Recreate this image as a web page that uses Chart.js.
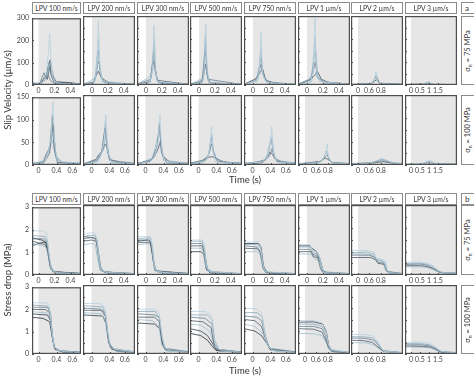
<!DOCTYPE html>
<html>
<head>
<meta charset="utf-8">
<script src="https://cdn.jsdelivr.net/npm/chart.js@4.4.1/dist/chart.umd.min.js"></script>
<style>
  body { margin: 0; background: #fff; }
  #fig { position: relative; width: 474px; height: 376px; overflow: hidden; font-family: Lato, 'Open Sans', sans-serif; color: #333; background: #fff; }
  #fig canvas { position: absolute; }
  .tbox { position: absolute; box-sizing: border-box; border: 1px solid #8c8c8c; background: #fff; font-size: 6.8px; text-align: center; white-space: nowrap; }
  .rbox { position: absolute; box-sizing: border-box; border: 1px solid #8c8c8c; background: #fff; }
  .rot { position: absolute; transform: rotate(-90deg); text-align: center; white-space: nowrap; }
  .lab { position: absolute; white-space: nowrap; text-align: center; }
  sub { font-size: 70%; vertical-align: -2px; line-height: 0; }
</style>
</head>
<body>
<div id="fig"></div>
<script>
// panel titles
const lpvLabels = ['LPV 100 nm/s', 'LPV 200 nm/s', 'LPV 300 nm/s', 'LPV 500 nm/s', 'LPV 750 nm/s', 'LPV 1 µm/s', 'LPV 2 µm/s', 'LPV 3 µm/s'];

// tick values
const yTicksVel75 = [0, 50, 100, 150, 200, 250, 300];
const yTicksVel100 = [0, 25, 50, 75, 100, 125, 150];
const yTicksStress = [0, 0.5, 1, 1.5, 2, 2.5, 3];
const xTicksShort = [0, 0.2, 0.4];
const xTicksMid = [0, 0.4, 0.6];
const xTicksLong = [0, 0.6, 0.8];
const xTicksSlow = [0, 0.5, 1, 1.5];

// traces: one list per LPV panel, each trace is x,y,x,y,...
// slip velocity, sigma_n = 75 MPa (µm/s)
const vel75 = [
  [[-0.08,8, -0.04,12, 0,6, 0.06,15, 0.1,60, 0.125,150, 0.14,230, 0.155,120, 0.17,40, 0.2,12, 0.3,6, 0.53,4],
   [-0.08,4, 0,5, 0.08,20, 0.12,60, 0.15,115, 0.17,70, 0.2,20, 0.26,8, 0.53,3],
   [-0.08,15, -0.05,5, 0.02,10, 0.05,40, 0.07,55, 0.09,30, 0.12,45, 0.15,20, 0.2,8, 0.53,4],
   [-0.08,2, 0.03,5, 0.07,30, 0.09,45, 0.11,25, 0.14,80, 0.16,40, 0.2,10, 0.35,12, 0.53,3],
   [-0.08,6, 0.04,8, 0.1,30, 0.13,95, 0.15,70, 0.18,20, 0.25,10, 0.53,2],
   [-0.08,10, 0,3, 0.05,20, 0.1,50, 0.14,110, 0.16,50, 0.22,15, 0.53,5]],
  [[-0.11,3, 0,5, 0.04,20, 0.065,110, 0.08,280, 0.095,100, 0.12,25, 0.2,8, 0.54,3],
   [-0.11,2, 0.02,8, 0.06,60, 0.08,150, 0.1,60, 0.14,15, 0.3,5, 0.54,2],
   [-0.11,4, 0.03,15, 0.07,90, 0.09,105, 0.11,40, 0.16,10, 0.54,3],
   [-0.11,1, 0.02,10, 0.05,40, 0.08,60, 0.12,30, 0.2,12, 0.3,5, 0.54,2],
   [-0.11,2, 0.04,30, 0.08,200, 0.1,70, 0.13,15, 0.54,4]],
  [[-0.11,3, 0.04,8, 0.08,60, 0.1,260, 0.115,80, 0.14,15, 0.54,3],
   [-0.11,2, 0.05,10, 0.09,120, 0.105,200, 0.12,50, 0.16,10, 0.54,2],
   [-0.11,4, 0.06,25, 0.095,150, 0.11,70, 0.15,12, 0.54,4],
   [-0.11,2, 0.05,15, 0.09,100, 0.11,90, 0.14,20, 0.54,3],
   [-0.11,3, 0.07,40, 0.1,110, 0.12,40, 0.18,8, 0.54,2]],
  [[-0.11,2, 0.04,8, 0.07,60, 0.085,265, 0.1,70, 0.13,10, 0.54,2],
   [-0.11,3, 0.05,15, 0.08,220, 0.095,60, 0.12,10, 0.54,3],
   [-0.11,1, 0.04,20, 0.075,150, 0.09,120, 0.11,25, 0.54,2],
   [-0.11,2, 0.03,10, 0.06,45, 0.08,90, 0.1,50, 0.14,10, 0.54,2],
   [-0.11,3, 0.05,30, 0.09,180, 0.1,40, 0.15,6, 0.54,3]],
  [[-0.11,3, 0.05,15, 0.08,60, 0.1,230, 0.12,50, 0.16,12, 0.25,8, 0.54,3],
   [-0.11,2, 0.04,20, 0.08,80, 0.1,120, 0.13,40, 0.2,10, 0.54,2],
   [-0.11,4, 0.03,25, 0.07,50, 0.1,90, 0.14,30, 0.2,12, 0.54,3],
   [-0.11,2, 0.05,30, 0.09,55, 0.12,70, 0.16,20, 0.3,6, 0.54,2],
   [-0.11,1, 0.06,20, 0.1,160, 0.12,45, 0.18,8, 0.54,2]],
  [[-0.11,2, 0.04,10, 0.08,60, 0.1,290, 0.115,70, 0.15,15, 0.54,3],
   [-0.11,3, 0.05,30, 0.09,120, 0.11,150, 0.13,40, 0.2,10, 0.54,2],
   [-0.11,2, 0.03,20, 0.08,60, 0.1,100, 0.14,30, 0.22,15, 0.3,10, 0.54,3],
   [-0.11,4, 0.05,25, 0.1,45, 0.13,60, 0.18,25, 0.26,12, 0.54,4],
   [-0.11,1, 0.06,15, 0.1,210, 0.12,35, 0.2,8, 0.54,2]],
  [[-0.4,2, 0.6,4, 0.68,10, 0.715,60, 0.74,15, 0.8,5, 1.2,2],
   [-0.4,3, 0.63,6, 0.69,20, 0.72,45, 0.75,12, 0.85,4, 1.2,2],
   [-0.4,1, 0.66,8, 0.7,30, 0.73,35, 0.77,8, 1.2,3],
   [-0.4,2, 0.65,5, 0.7,18, 0.74,25, 0.78,6, 1.2,2]],
  [[-0.33,1, 0.6,2, 0.85,10, 0.95,16, 1.1,8, 1.3,3, 2.56,2],
   [-0.33,2, 0.7,4, 0.9,12, 1.0,12, 1.15,4, 2.56,1],
   [-0.33,1, 0.75,5, 0.95,9, 1.1,6, 1.3,2, 2.56,1]]
];

// slip velocity, sigma_n = 100 MPa (µm/s)
const vel100 = [
  [[-0.15,3, 0.1,4, 0.2,20, 0.28,60, 0.32,140, 0.36,50, 0.41,8, 0.8,3],
   [-0.15,2, 0.12,8, 0.2,25, 0.28,55, 0.32,75, 0.35,60, 0.39,15, 0.48,5, 0.8,2],
   [-0.15,4, 0.1,6, 0.16,22, 0.2,30, 0.25,40, 0.31,110, 0.34,40, 0.41,5, 0.8,3],
   [-0.15,1, 0.1,3, 0.18,15, 0.24,25, 0.3,70, 0.33,90, 0.37,30, 0.42,6, 0.8,2],
   [-0.15,2, 0.14,10, 0.22,30, 0.28,45, 0.33,55, 0.37,20, 0.48,6, 0.8,4]],
  [[-0.19,2, 0.1,5, 0.2,15, 0.28,50, 0.32,108, 0.36,30, 0.42,5, 0.8,2],
   [-0.19,3, 0.08,8, 0.14,18, 0.2,20, 0.27,35, 0.32,65, 0.36,25, 0.44,6, 0.8,3],
   [-0.19,1, 0.12,10, 0.22,25, 0.3,80, 0.34,50, 0.4,10, 0.8,2],
   [-0.19,2, 0.1,12, 0.16,22, 0.24,30, 0.3,45, 0.34,40, 0.4,12, 0.55,5, 0.8,2],
   [-0.19,1, 0.15,8, 0.25,35, 0.31,95, 0.35,25, 0.44,4, 0.8,1]],
  [[-0.19,3, 0.1,6, 0.22,20, 0.28,50, 0.32,108, 0.36,35, 0.42,6, 0.8,3],
   [-0.19,2, 0.12,10, 0.24,30, 0.3,70, 0.34,55, 0.4,10, 0.8,2],
   [-0.19,1, 0.14,12, 0.26,40, 0.31,90, 0.35,30, 0.44,5, 0.8,2],
   [-0.19,4, 0.1,8, 0.2,18, 0.28,35, 0.33,50, 0.38,20, 0.48,6, 0.8,3],
   [-0.19,2, 0.16,15, 0.27,60, 0.32,75, 0.36,25, 0.44,4, 0.8,2]],
  [[-0.19,2, 0.1,6, 0.2,15, 0.26,40, 0.29,83, 0.32,30, 0.38,6, 0.8,2],
   [-0.19,3, 0.05,8, 0.15,15, 0.22,20, 0.28,60, 0.32,35, 0.4,12, 0.52,6, 0.8,3],
   [-0.19,1, 0.08,5, 0.18,12, 0.25,30, 0.29,45, 0.34,25, 0.41,8, 0.8,2],
   [-0.19,4, 0.1,10, 0.2,16, 0.3,18, 0.4,14, 0.47,8, 0.55,5, 0.8,3],
   [-0.19,2, 0.12,8, 0.24,25, 0.3,65, 0.34,20, 0.44,5, 0.8,2]],
  [[-0.19,3, 0.2,6, 0.32,15, 0.38,35, 0.415,82, 0.44,25, 0.48,6, 0.8,3],
   [-0.19,2, 0.25,8, 0.35,25, 0.405,55, 0.43,35, 0.47,10, 0.8,2],
   [-0.19,4, 0.1,6, 0.3,12, 0.38,20, 0.42,35, 0.45,15, 0.55,6, 0.8,3],
   [-0.19,1, 0.22,5, 0.34,18, 0.39,28, 0.43,22, 0.48,8, 0.8,2],
   [-0.19,2, 0.3,10, 0.38,45, 0.42,60, 0.45,15, 0.52,4, 0.8,2]],
  [[-0.4,2, 0.61,4, 0.7,10, 0.76,25, 0.785,45, 0.81,15, 0.87,4, 1.2,2],
   [-0.4,3, 0.66,6, 0.73,15, 0.77,30, 0.8,20, 0.85,6, 1.2,2],
   [-0.4,1, 0.63,5, 0.71,12, 0.76,18, 0.79,22, 0.82,10, 0.88,4, 1.2,2],
   [-0.4,2, 0.68,8, 0.75,15, 0.8,12, 0.87,5, 1.2,3]],
  [[-0.4,2, 0.47,3, 0.66,6, 0.75,10, 0.82,15, 0.88,10, 0.99,5, 1.2,2],
   [-0.4,1, 0.61,4, 0.7,8, 0.8,12, 0.87,11, 0.97,6, 1.09,2, 1.2,2],
   [-0.4,3, 0.63,5, 0.73,7, 0.81,9, 0.9,8, 1.04,4, 1.2,3],
   [-0.4,2, 0.66,4, 0.76,6, 0.85,7, 0.99,4, 1.2,2]],
  [[-0.33,1, 0.6,3, 0.9,8, 1.05,11, 1.2,6, 1.5,2, 2.56,1],
   [-0.33,2, 0.7,3, 0.95,7, 1.1,8, 1.3,4, 2.56,1],
   [-0.33,1, 0.5,2, 0.8,4, 1.0,5, 1.25,3, 2.56,2]]
];

// stress drop, sigma_n = 75 MPa (MPa)
const stress75 = [
  [[-0.08,1.95, 0.05,1.95, 0.1,1.85, 0.13,1.0, 0.16,0.3, 0.2,0.12, 0.3,0.08, 0.53,0.05],
   [-0.08,1.75, 0.08,1.7, 0.11,1.5, 0.14,0.6, 0.17,0.2, 0.25,0.1, 0.53,0.06],
   [-0.08,1.6, 0.06,1.6, 0.1,1.5, 0.13,0.8, 0.16,0.25, 0.22,0.12, 0.53,0.08],
   [-0.08,1.5, 0.02,1.4, 0.08,1.35, 0.12,1.1, 0.15,0.4, 0.19,0.15, 0.53,0.05],
   [-0.08,1.4, 0.05,1.3, 0.1,1.2, 0.13,0.7, 0.16,0.2, 0.25,0.1, 0.53,0.04],
   [-0.08,1.3, 0.06,1.45, 0.11,1.4, 0.14,0.5, 0.18,0.15, 0.4,0.1, 0.53,0.05],
   [-0.08,1.65, 0.04,1.55, 0.09,1.45, 0.12,0.9, 0.15,0.3, 0.2,0.1, 0.53,0.07]],
  [[-0.11,1.7, -0.05,1.8, 0.03,1.8, 0.06,1.6, 0.09,0.6, 0.12,0.2, 0.2,0.1, 0.54,0.05],
   [-0.11,1.6, -0.05,1.7, 0.04,1.7, 0.07,1.3, 0.1,0.3, 0.15,0.12, 0.54,0.06],
   [-0.11,1.55, 0,1.6, 0.05,1.55, 0.08,0.8, 0.11,0.2, 0.2,0.1, 0.54,0.05],
   [-0.11,1.45, 0,1.5, 0.05,1.45, 0.08,1.0, 0.11,0.3, 0.16,0.1, 0.54,0.04],
   [-0.11,1.3, 0,1.35, 0.04,1.3, 0.07,0.7, 0.1,0.2, 0.2,0.08, 0.54,0.05],
   [-0.11,1.65, 0.02,1.6, 0.06,1.5, 0.09,0.5, 0.13,0.15, 0.3,0.1, 0.54,0.06]],
  [[-0.11,1.65, 0.05,1.65, 0.07,1.5, 0.1,0.4, 0.13,0.15, 0.3,0.08, 0.54,0.06],
   [-0.11,1.55, 0.05,1.6, 0.08,1.2, 0.11,0.25, 0.2,0.1, 0.54,0.05],
   [-0.11,1.5, 0.04,1.5, 0.07,1.3, 0.1,0.5, 0.13,0.15, 0.54,0.07],
   [-0.11,1.4, 0.05,1.4, 0.08,0.9, 0.11,0.2, 0.2,0.1, 0.54,0.05],
   [-0.11,1.3, 0.04,1.35, 0.07,1.2, 0.1,0.3, 0.15,0.1, 0.54,0.04],
   [-0.11,1.45, 0.03,1.5, 0.06,1.4, 0.09,0.6, 0.12,0.18, 0.54,0.06]],
  [[-0.11,1.5, 0.04,1.5, 0.06,1.4, 0.09,0.4, 0.12,0.15, 0.54,0.05],
   [-0.11,1.45, 0.04,1.45, 0.07,1.1, 0.1,0.25, 0.2,0.1, 0.54,0.05],
   [-0.11,1.35, 0.03,1.35, 0.06,1.25, 0.09,0.5, 0.12,0.15, 0.54,0.06],
   [-0.11,1.25, 0.04,1.25, 0.07,0.9, 0.1,0.2, 0.2,0.1, 0.54,0.04],
   [-0.11,1.15, 0.03,1.15, 0.06,1.0, 0.09,0.3, 0.15,0.1, 0.54,0.05],
   [-0.11,1.0, 0.02,1.0, 0.06,0.9, 0.09,0.25, 0.14,0.08, 0.54,0.05]],
  [[-0.11,1.4, 0.06,1.42, 0.09,1.3, 0.12,0.5, 0.15,0.15, 0.54,0.05],
   [-0.11,1.3, 0.06,1.32, 0.1,1.1, 0.13,0.3, 0.2,0.1, 0.54,0.05],
   [-0.11,1.25, 0.05,1.2, 0.09,1.0, 0.12,0.4, 0.15,0.12, 0.54,0.06],
   [-0.11,1.15, 0.06,1.12, 0.1,0.9, 0.13,0.25, 0.2,0.08, 0.54,0.04],
   [-0.11,1.0, 0.05,1.0, 0.09,0.85, 0.12,0.35, 0.16,0.1, 0.54,0.05],
   [-0.11,1.35, 0.07,1.35, 0.1,1.2, 0.13,0.4, 0.17,0.12, 0.54,0.05]],
  [[-0.11,1.3, 0.04,1.3, 0.07,1.05, 0.14,0.95, 0.18,0.4, 0.21,0.1, 0.54,0.05],
   [-0.11,1.2, 0.05,1.2, 0.08,0.95, 0.15,0.85, 0.19,0.3, 0.22,0.08, 0.54,0.05],
   [-0.11,1.1, 0.04,1.1, 0.07,0.9, 0.13,0.8, 0.17,0.25, 0.2,0.1, 0.54,0.04],
   [-0.11,1.0, 0.05,1.0, 0.08,0.8, 0.16,0.7, 0.2,0.2, 0.25,0.08, 0.54,0.05],
   [-0.11,0.9, 0.05,0.9, 0.09,0.7, 0.15,0.6, 0.19,0.15, 0.54,0.05],
   [-0.11,1.25, 0.03,1.25, 0.06,1.15, 0.12,1.0, 0.17,0.5, 0.2,0.12, 0.54,0.06]],
  [[-0.4,1.05, 0.47,1.05, 0.68,1.0, 0.713,0.75, 0.85,0.65, 0.88,0.3, 0.93,0.1, 1.2,0.05],
   [-0.4,0.95, 0.47,0.98, 0.68,0.9, 0.72,0.65, 0.87,0.55, 0.9,0.2, 0.97,0.08, 1.2,0.05],
   [-0.4,0.85, 0.61,0.85, 0.7,0.75, 0.74,0.55, 0.85,0.5, 0.88,0.2, 0.93,0.08, 1.2,0.04],
   [-0.4,0.75, 0.63,0.75, 0.71,0.65, 0.75,0.5, 0.87,0.45, 0.9,0.15, 1.2,0.05],
   [-0.4,0.9, 0.31,0.9, 0.66,0.85, 0.7,0.7, 0.82,0.62, 0.87,0.25, 0.93,0.1, 1.2,0.05]],
  [[-0.33,0.55, 0.5,0.55, 0.9,0.5, 1.2,0.4, 1.5,0.2, 1.8,0.1, 2.56,0.08],
   [-0.33,0.5, 0.6,0.5, 0.95,0.45, 1.25,0.35, 1.55,0.15, 1.8,0.08, 2.56,0.06],
   [-0.33,0.45, 0.5,0.47, 0.9,0.42, 1.2,0.3, 1.5,0.15, 1.75,0.1, 2.56,0.08],
   [-0.33,0.4, 0.6,0.4, 0.95,0.35, 1.3,0.25, 1.6,0.12, 2.56,0.07],
   [-0.33,0.35, 0.7,0.35, 1.0,0.3, 1.3,0.2, 1.6,0.1, 2.56,0.05]]
];

// stress drop, sigma_n = 100 MPa (MPa)
const stress100 = [
  [[-0.15,2.3, 0.15,2.3, 0.24,2.2, 0.29,1.2, 0.34,0.4, 0.4,0.2, 0.5,0.1, 0.8,0.05],
   [-0.15,2.2, 0.2,2.15, 0.26,1.9, 0.3,0.9, 0.35,0.3, 0.43,0.15, 0.8,0.05],
   [-0.15,2.1, 0.2,2.1, 0.27,1.8, 0.31,0.7, 0.36,0.25, 0.46,0.1, 0.8,0.04],
   [-0.15,2.0, 0.15,2.0, 0.25,1.85, 0.3,1.0, 0.34,0.35, 0.43,0.15, 0.8,0.05],
   [-0.15,1.9, 0.18,1.85, 0.26,1.7, 0.3,0.9, 0.35,0.3, 0.46,0.12, 0.8,0.06],
   [-0.15,1.8, 0.2,1.75, 0.27,1.5, 0.32,0.6, 0.37,0.2, 0.5,0.08, 0.8,0.04],
   [-0.15,1.65, 0.1,1.6, 0.25,1.45, 0.3,0.8, 0.36,0.25, 0.48,0.1, 0.8,0.05]],
  [[-0.19,2.2, 0.2,2.2, 0.3,2.0, 0.36,1.0, 0.41,0.4, 0.47,0.2, 0.8,0.06],
   [-0.19,2.1, 0.25,2.05, 0.32,1.6, 0.38,0.6, 0.43,0.25, 0.8,0.05],
   [-0.19,2.0, 0.2,1.95, 0.3,1.8, 0.36,0.8, 0.41,0.3, 0.49,0.12, 0.8,0.05],
   [-0.19,1.9, 0.22,1.9, 0.32,1.6, 0.38,0.5, 0.43,0.2, 0.8,0.06],
   [-0.19,1.8, 0.2,1.75, 0.3,1.5, 0.36,0.7, 0.42,0.25, 0.52,0.1, 0.8,0.05],
   [-0.19,1.7, 0.25,1.65, 0.33,1.3, 0.39,0.5, 0.45,0.2, 0.8,0.06]],
  [[-0.19,1.95, 0.2,1.95, 0.3,1.8, 0.36,0.9, 0.41,0.3, 0.49,0.12, 0.8,0.05],
   [-0.19,1.85, 0.22,1.85, 0.32,1.5, 0.38,0.6, 0.43,0.2, 0.8,0.05],
   [-0.19,1.75, 0.2,1.7, 0.3,1.6, 0.36,0.7, 0.42,0.25, 0.8,0.06],
   [-0.19,1.6, 0.2,1.6, 0.31,1.4, 0.37,0.5, 0.42,0.2, 0.8,0.05],
   [-0.19,1.5, 0.15,1.45, 0.3,1.2, 0.36,0.4, 0.43,0.15, 0.8,0.05],
   [-0.19,1.35, 0.2,1.3, 0.32,1.1, 0.38,0.4, 0.44,0.15, 0.8,0.04]],
  [[-0.19,1.85, 0.15,1.85, 0.28,1.7, 0.33,0.8, 0.39,0.3, 0.49,0.12, 0.8,0.05],
   [-0.19,1.7, 0.2,1.7, 0.3,1.5, 0.36,0.6, 0.43,0.2, 0.8,0.05],
   [-0.19,1.6, 0.15,1.55, 0.3,1.3, 0.35,0.5, 0.41,0.2, 0.8,0.06],
   [-0.19,1.45, 0.1,1.4, 0.28,1.15, 0.34,0.45, 0.43,0.15, 0.8,0.05],
   [-0.19,1.3, 0.05,1.25, 0.25,1.0, 0.33,0.5, 0.41,0.2, 0.8,0.05],
   [-0.19,1.1, 0.05,1.0, 0.2,0.8, 0.3,0.5, 0.39,0.2, 0.8,0.04],
   [-0.19,0.9, 0.05,0.8, 0.2,0.6, 0.3,0.35, 0.39,0.15, 0.8,0.05]],
  [[-0.19,2.0, 0.1,1.95, 0.2,1.8, 0.26,1.0, 0.32,0.4, 0.43,0.15, 0.8,0.05],
   [-0.19,1.8, 0.1,1.8, 0.22,1.6, 0.28,0.8, 0.36,0.3, 0.46,0.12, 0.8,0.05],
   [-0.19,1.65, 0.1,1.6, 0.2,1.45, 0.3,0.7, 0.37,0.25, 0.8,0.06],
   [-0.19,1.5, 0.05,1.45, 0.2,1.2, 0.3,0.6, 0.39,0.2, 0.8,0.05],
   [-0.19,1.3, 0.05,1.2, 0.2,0.95, 0.32,0.5, 0.4,0.2, 0.8,0.05],
   [-0.19,1.1, 0.05,1.0, 0.2,0.8, 0.32,0.45, 0.4,0.18, 0.8,0.04]],
  [[-0.4,1.45, 0.47,1.45, 0.7,1.35, 0.76,1.1, 0.8,0.5, 0.84,0.2, 1.2,0.05],
   [-0.4,1.3, 0.47,1.3, 0.7,1.2, 0.77,0.9, 0.81,0.35, 0.85,0.15, 1.2,0.05],
   [-0.4,1.2, 0.47,1.2, 0.7,1.1, 0.76,0.8, 0.8,0.3, 0.85,0.12, 1.2,0.06],
   [-0.4,1.1, 0.47,1.08, 0.7,0.95, 0.765,0.6, 0.82,0.25, 0.88,0.1, 1.2,0.05],
   [-0.4,0.9, 0.47,0.88, 0.7,0.8, 0.77,0.5, 0.82,0.2, 1.2,0.05],
   [-0.4,1.38, 0.47,1.4, 0.713,1.3, 0.77,1.0, 0.81,0.4, 0.86,0.15, 1.2,0.05]],
  [[-0.4,0.85, 0.31,0.85, 0.66,0.8, 0.73,0.6, 0.8,0.3, 0.85,0.12, 1.2,0.05],
   [-0.4,0.75, 0.31,0.75, 0.66,0.7, 0.74,0.5, 0.81,0.22, 0.87,0.1, 1.2,0.05],
   [-0.4,0.7, 0.39,0.68, 0.68,0.6, 0.75,0.4, 0.82,0.15, 1.2,0.05],
   [-0.4,0.6, 0.31,0.58, 0.66,0.5, 0.75,0.3, 0.84,0.12, 1.2,0.04],
   [-0.4,0.5, 0.47,0.48, 0.68,0.4, 0.76,0.25, 0.85,0.1, 1.2,0.05]],
  [[-0.33,0.5, 0.5,0.52, 1.0,0.48, 1.3,0.35, 1.6,0.15, 1.9,0.08, 2.56,0.05],
   [-0.33,0.45, 0.5,0.45, 1.05,0.4, 1.35,0.28, 1.65,0.12, 2.56,0.05],
   [-0.33,0.4, 0.6,0.4, 1.0,0.36, 1.3,0.25, 1.6,0.1, 2.56,0.06],
   [-0.33,0.35, 0.5,0.34, 1.1,0.3, 1.4,0.2, 1.7,0.08, 2.56,0.05],
   [-0.33,0.3, 0.6,0.3, 1.1,0.26, 1.4,0.15, 1.7,0.07, 2.56,0.04]]
];

// ---- layout ----
const fig = document.getElementById('fig');
const colLeft = [32, 83, 137, 190, 244, 298, 351, 405];
const colW = [49, 52, 52, 52, 52, 52, 52, 52];
const padTop = 5, xAxisH = 11, yAxisW = 30;

// the time axes are not evenly spaced in the figure, so the x scale maps
// each labelled tick to where it sits inside the panel (px from the left)
class SegmentScale extends Chart.LinearScale {
  static id = 'segment';
  static defaults = {};
  getPixelForValue(value) {
    const a = this.segAnchors;
    if (!a) return super.getPixelForValue(value);
    let i = 0;
    while (i < a.length - 2 && value > a[i + 1][0]) i++;
    const [v0, p0] = a[i], [v1, p1] = a[i + 1];
    return this.left + p0 + (value - v0) * (p1 - p0) / (v1 - v0);
  }
  getValueForPixel(pixel) {
    const a = this.segAnchors;
    if (!a) return super.getValueForPixel(pixel);
    const off = pixel - this.left;
    let i = 0;
    while (i < a.length - 2 && off > a[i + 1][1]) i++;
    const [v0, p0] = a[i], [v1, p1] = a[i + 1];
    return v0 + (off - p0) * (v1 - v0) / (p1 - p0);
  }
}
Chart.register(SegmentScale);

const xKinds = {
  A: { ticks: xTicksShort, at: [[0, 9], [0.4, 41]], at0: [[0, 6.5], [0.4, 38.5]], min: -0.11, max: 0.54 },
  B: { ticks: xTicksMid, at: [[0, 8.5], [0.4, 26.5], [0.6, 42]], at0: [[0, 6.5], [0.4, 24.5], [0.6, 40.5]], min: -0.19, max: 0.8 },
  C: { ticks: xTicksLong, at: [[0, 7], [0.6, 18], [0.8, 30]], at0: [[0, 7], [0.6, 18], [0.8, 30]], min: -0.4, max: 1.2 },
  D: { ticks: xTicksSlow, at: [[0, 6], [1.5, 33]], at0: [[0, 6], [1.5, 33]], min: -0.33, max: 2.56 }
};

const rows = [
  { data: vel75, top: 16, h: 69, yMax: 300, yTicks: yTicksVel75, kinds: 'AAAAAACD' },
  { data: vel100, top: 95, h: 70, yMax: 150, yTicks: yTicksVel100, kinds: 'BBBBBCCD' },
  { data: stress75, top: 205, h: 70, yMax: 3, yTicks: yTicksStress, kinds: 'AAAAAACD' },
  { data: stress100, top: 285, h: 69, yMax: 3, yTicks: yTicksStress, kinds: 'BBBBBCCD' }
];

const lineColors = ['#b7d1de', '#8aa9bb', '#6a808f', '#4c5b67', '#9dbccc', '#33404a', '#22303a'];
const tickFont = { family: 'Lato, "Open Sans", sans-serif', size: 7 };

const panelLook = {
  id: 'panelLook',
  beforeDraw(chart) {
    const { ctx, chartArea: a, scales } = chart;
    const x0 = Math.max(a.left, scales.x.getPixelForValue(0));
    ctx.save();
    ctx.fillStyle = '#ffffff';
    ctx.fillRect(a.left, a.top, a.width, a.height);
    ctx.fillStyle = '#e6e6e6';
    ctx.fillRect(x0, a.top, a.right - x0, a.height);
    ctx.restore();
  },
  afterDraw(chart) {
    const { ctx, chartArea: a, scales } = chart;
    ctx.save();
    ctx.strokeStyle = '#4d4d4d';
    ctx.lineWidth = 1;
    ctx.beginPath();
    scales.x.ticks.forEach(t => {
      const px = Math.round(scales.x.getPixelForValue(t.value)) + 0.5;
      ctx.moveTo(px, a.bottom); ctx.lineTo(px, a.bottom - 2);
    });
    scales.y.ticks.forEach(t => {
      const py = Math.round(scales.y.getPixelForValue(t.value)) + 0.5;
      ctx.moveTo(a.left, py); ctx.lineTo(a.left + 2, py);
    });
    ctx.stroke();
    ctx.lineWidth = 1.2;
    ctx.strokeRect(a.left + 0.6, a.top + 0.6, a.width - 1.2, a.height - 1.2);
    ctx.restore();
  }
};

function toPoints(flat) {
  const pts = [];
  for (let i = 0; i < flat.length; i += 2) pts.push({ x: flat[i], y: flat[i + 1] });
  return pts;
}

rows.forEach((row, r) => {
  row.data.forEach((traces, c) => {
    const kind = xKinds[row.kinds[c]];
    const anchors = c === 0 ? kind.at0 : kind.at;
    const w = colW[c];
    const yw = c === 0 ? yAxisW : 0;
    const cv = document.createElement('canvas');
    cv.width = yw + w;
    cv.height = padTop + row.h + xAxisH;
    cv.style.left = (colLeft[c] - yw) + 'px';
    cv.style.top = (row.top - padTop) + 'px';
    fig.appendChild(cv);

    new Chart(cv, {
      type: 'line',
      data: {
        datasets: traces.map((t, i) => ({
          data: toPoints(t),
          borderColor: lineColors[i % lineColors.length],
          borderWidth: 0.8,
          pointRadius: 0,
          tension: 0
        }))
      },
      options: {
        responsive: false,
        animation: false,
        events: [],
        devicePixelRatio: 1,
        layout: { padding: { top: padTop, right: 0, left: 0, bottom: 0 } },
        plugins: { legend: { display: false }, tooltip: { enabled: false } },
        scales: {
          x: {
            type: 'segment',
            min: kind.min,
            max: kind.max,
            afterBuildTicks: s => { s.segAnchors = anchors; s.ticks = kind.ticks.map(v => ({ value: v })); },
            afterFit: s => { s.height = xAxisH; },
            grid: { display: false, drawTicks: false },
            border: { display: false },
            ticks: { font: tickFont, color: '#444', padding: 2, maxRotation: 0, autoSkip: false, callback: v => String(v) }
          },
          y: {
            type: 'linear',
            min: 0,
            max: row.yMax,
            afterBuildTicks: s => { s.ticks = row.yTicks.map(v => ({ value: v })); },
            afterFit: s => { s.width = yw; },
            grid: { display: false, drawTicks: false },
            border: { display: false },
            ticks: { display: c === 0, font: tickFont, color: '#444', padding: 3, callback: v => String(v) }
          }
        }
      },
      plugins: [panelLook]
    });
  });
});

// panel title boxes
[2, 193].forEach(top => {
  lpvLabels.forEach((txt, c) => {
    const d = document.createElement('div');
    d.className = 'tbox';
    d.style.left = colLeft[c] + 'px';
    d.style.top = top + 'px';
    d.style.width = colW[c] + 'px';
    d.style.height = '12px';
    d.style.lineHeight = '10px';
    d.textContent = txt;
    fig.appendChild(d);
  });
});

function box(left, top, w, h) {
  const d = document.createElement('div');
  d.className = 'rbox';
  Object.assign(d.style, { left: left + 'px', top: top + 'px', width: w + 'px', height: h + 'px' });
  fig.appendChild(d);
  return d;
}

function rotText(html, cx, cy, len, thick, size) {
  const d = document.createElement('div');
  d.className = 'rot';
  Object.assign(d.style, {
    left: (cx - len / 2) + 'px', top: (cy - thick / 2) + 'px',
    width: len + 'px', height: thick + 'px', lineHeight: thick + 'px', fontSize: size + 'px'
  });
  d.innerHTML = html;
  fig.appendChild(d);
}

function text(str, cx, cy, size) {
  const d = document.createElement('div');
  d.className = 'lab';
  Object.assign(d.style, { left: (cx - 60) + 'px', top: (cy - size * 0.7) + 'px', width: '120px', fontSize: size + 'px', lineHeight: (size * 1.4) + 'px' });
  d.textContent = str;
  fig.appendChild(d);
}

// panel letters and normal stress labels on the right
const letterBoxes = [{ t: 'a', top: 2 }, { t: 'b', top: 193 }];
letterBoxes.forEach(b => {
  const d = box(461, b.top, 14, 12);
  d.style.fontSize = '8px';
  d.style.lineHeight = '10px';
  d.style.paddingLeft = '3px';
  d.textContent = b.t;
});
const stressLabels = ['σ<sub>n</sub> = 75 MPa', 'σ<sub>n</sub> = 100 MPa', 'σ<sub>n</sub> = 75 MPa', 'σ<sub>n</sub> = 100 MPa'];
rows.forEach((row, r) => {
  box(461, row.top, 14, row.h);
  rotText(stressLabels[r], 467.5, row.top + row.h / 2, row.h, 12, 7.5);
});

// axis titles
rotText('Slip Velocity (µm/s)', 8, 90, 150, 12, 9.5);
rotText('Stress drop (MPa)', 8, 280, 150, 12, 9.5);
text('Time (s)', 245, 180, 9.5);
text('Time (s)', 245, 371, 9.5);
</script>
</body>
</html>
